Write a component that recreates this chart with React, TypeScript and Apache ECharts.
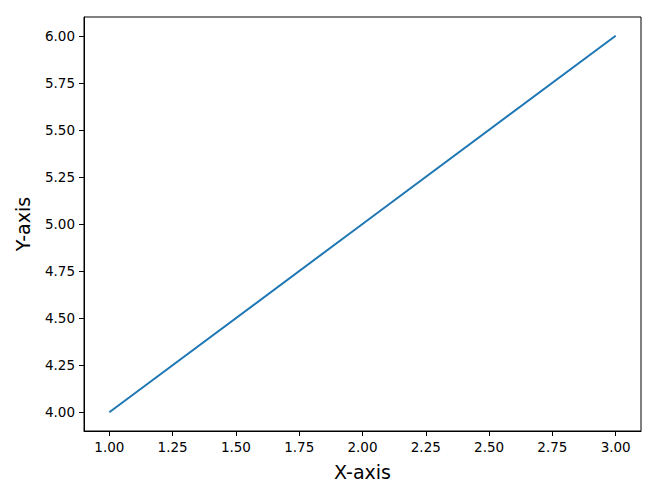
import React, { useEffect, useRef } from "react";
import * as echarts from "echarts";

const xValues = [1, 2, 3];
const yValues = [4, 5, 6];
const xTicks = [1.0, 1.25, 1.5, 1.75, 2.0, 2.25, 2.5, 2.75, 3.0];
const yTicks = [4.0, 4.25, 4.5, 4.75, 5.0, 5.25, 5.5, 5.75, 6.0];
const xName = "X-axis";
const yName = "Y-axis";

export default function App() {
  const ref = useRef<HTMLDivElement>(null);
  useEffect(() => {
    if (!ref.current) return;
    const chart = echarts.init(ref.current, null, { renderer: "svg" });
    const font = "DejaVu Sans";
    chart.setOption({
      animation: false,
      backgroundColor: "#ffffff",
      grid: {
        left: 84,
        top: 17,
        right: 25,
        bottom: 55,
        show: true,
        borderColor: "#000000",
        borderWidth: 1,
        backgroundColor: "transparent",
      },
      xAxis: {
        type: "value",
        min: 0.9,
        max: 3.1,
        name: xName,
        nameLocation: "middle",
        nameGap: 31,
        nameTextStyle: { fontFamily: font, fontSize: 19, color: "#000" },
        axisLine: { show: true, lineStyle: { color: "#000", width: 1 } },
        axisTick: { show: true, length: 5, customValues: xTicks, lineStyle: { color: "#000" } },
        axisLabel: {
          customValues: xTicks,
          margin: 9,
          fontFamily: font,
          fontSize: 13.5,
          color: "#000",
          formatter: (v: number) => v.toFixed(2),
        },
        splitLine: { show: false },
      },
      yAxis: {
        type: "value",
        min: 3.9,
        max: 6.1,
        name: yName,
        nameLocation: "middle",
        nameGap: 52,
        nameTextStyle: { fontFamily: font, fontSize: 19, color: "#000" },
        axisLine: { show: true, lineStyle: { color: "#000", width: 1 } },
        axisTick: { show: true, length: 5, customValues: yTicks, lineStyle: { color: "#000" } },
        axisLabel: {
          customValues: yTicks,
          margin: 9,
          fontFamily: font,
          fontSize: 13.5,
          color: "#000",
          formatter: (v: number) => v.toFixed(2),
        },
        splitLine: { show: false },
      },
      series: [
        {
          type: "line",
          data: xValues.map((x, i) => [x, yValues[i]]),
          showSymbol: false,
          lineStyle: { color: "#1f77b4", width: 2 },
          itemStyle: { color: "#1f77b4" },
        },
      ],
    });
    return () => chart.dispose();
  }, []);
  return (
    <div
      ref={ref}
      style={{ position: "fixed", left: 0, top: 0, width: 666, height: 486, background: "#fff" }}
    />
  );
}
